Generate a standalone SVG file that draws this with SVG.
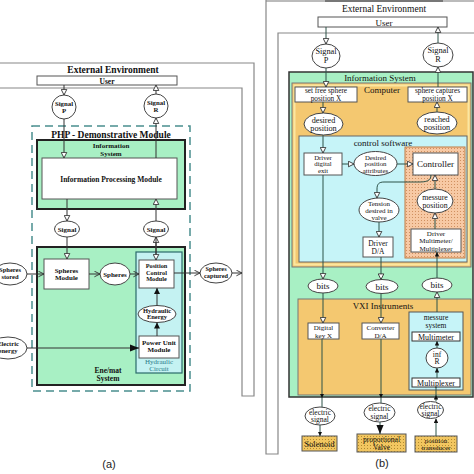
<svg xmlns="http://www.w3.org/2000/svg" width="474" height="474" viewBox="0 0 474 474">
<style>
.a{font-family:"Liberation Serif","Times New Roman",serif;font-weight:bold;text-anchor:middle;fill:#111}
.b{font-family:"Liberation Serif","Times New Roman",serif;text-anchor:middle;fill:#111}
.cap{font-family:"Liberation Sans",Arial,sans-serif;text-anchor:middle;fill:#222;font-size:11px}
.wb{fill:#fff;stroke:#555;stroke-width:1}
.el{fill:#fff;stroke:#444;stroke-width:1}
.grn{fill:#a8f0c4;stroke:#222;stroke-width:2}
.blu{fill:#c6f4f8;stroke:#666;stroke-width:1}
.org{fill:#f4c870;stroke:#777;stroke-width:1}
.frm{fill:none;stroke:#888;stroke-width:1.2}
.c{fill:none;stroke:#333;stroke-width:1}
.cg{fill:none;stroke:#2d5248;stroke-width:1}
.hc{fill:#2a7a8a}
</style>
<defs>
<marker id="hol" viewBox="0 0 10 10" refX="9" refY="5" markerWidth="7" markerHeight="7" markerUnits="userSpaceOnUse" orient="auto"><path d="M1,1 L9,5 L1,9 Z" fill="#fff" stroke="#333" stroke-width="1.3"/></marker>
<marker id="opn" viewBox="0 0 10 10" refX="9" refY="5" markerWidth="7" markerHeight="7" markerUnits="userSpaceOnUse" orient="auto"><path d="M1,1 L9,5 L1,9" fill="none" stroke="#333" stroke-width="1.3"/></marker>
<marker id="fil" viewBox="0 0 10 10" refX="10" refY="5" markerWidth="6" markerHeight="6" markerUnits="userSpaceOnUse" orient="auto"><path d="M0,0 L10,5 L0,10 Z" fill="#111"/></marker>
<marker id="sm" viewBox="0 0 10 10" refX="10" refY="5" markerWidth="4.5" markerHeight="4.5" markerUnits="userSpaceOnUse" orient="auto"><path d="M0,0 L10,5 L0,10 Z" fill="#111"/></marker>
<marker id="big" viewBox="0 0 10 10" refX="10" refY="5" markerWidth="9" markerHeight="9" markerUnits="userSpaceOnUse" orient="auto"><path d="M0,1 L10,5 L0,9 Z" fill="#111"/></marker>
<pattern id="dotO" width="3" height="3" patternUnits="userSpaceOnUse"><rect width="3" height="3" fill="#f7c9a4"/><rect x="1" y="1" width="1" height="1" fill="#d09060"/></pattern>
<pattern id="dotY" width="3" height="3" patternUnits="userSpaceOnUse"><rect width="3" height="3" fill="#f2c660"/><rect x="1" y="1" width="1" height="1" fill="#b08a30"/></pattern>
</defs>

<!-- ===== Panel (a) ===== -->
<g id="a-frame">
<path class="frm" d="M0,63 H254 V396 H242 V88 H0"/>
<text class="a" x="113" y="72.5" font-size="9.5">External Environment</text>
</g>
<g id="a-user"><rect class="wb" x="37" y="76" width="140" height="9"/><text class="a" x="107" y="83.5" font-size="7.5">User</text></g>
<g id="a-signalP"><circle class="el" cx="64" cy="107" r="12"/><text class="a" x="64" y="105.5" font-size="6.8">Signal</text><text class="a" x="64" y="112.5" font-size="6.8">P</text></g>
<g id="a-signalR"><circle class="el" cx="156" cy="106" r="12"/><text class="a" x="156" y="104.5" font-size="6.8">Signal</text><text class="a" x="156" y="111.5" font-size="6.8">R</text></g>
<g id="a-php">
<rect x="32" y="126" width="158" height="265" fill="none" stroke="#4a8f8f" stroke-width="1.5" stroke-dasharray="8,5"/>
<text class="a" x="111" y="138" font-size="9.5">PHP - Demonstrative Module</text>
</g>
<g id="a-infosys"><rect class="grn" x="37" y="140" width="148" height="69"/><text class="a" x="111" y="148" font-size="7">Information</text><text class="a" x="111" y="155.5" font-size="7">System</text></g>
<g id="a-ipm"><rect class="wb" x="42" y="158" width="135" height="41"/><text class="a" x="111" y="182" font-size="7.5">Information Processing Module</text></g>
<g id="a-sig1"><ellipse class="el" cx="67" cy="229" rx="12.5" ry="8"/><text class="a" x="67" y="231.5" font-size="7">Signal</text></g>
<g id="a-sig2"><ellipse class="el" cx="156" cy="229" rx="12.5" ry="8"/><text class="a" x="156" y="231.5" font-size="7">Signal</text></g>
<g id="a-enemat"><rect class="grn" x="37" y="247" width="148" height="138"/><text class="a" x="108" y="373" font-size="7.5">Ene/mat</text><text class="a" x="108" y="381" font-size="7.5">System</text></g>
<g id="a-hydcircuit"><rect x="136" y="252" width="46" height="121" fill="#c4f2f2" stroke="#2a6a6a" stroke-width="1.2"/><text class="b hc" x="159" y="364" font-size="7">Hydraulic</text><text class="b hc" x="159" y="371" font-size="7">Circuit</text></g>
<g id="a-spheresmodule"><rect class="wb" x="44" y="259" width="45" height="30"/><text class="a" x="66.5" y="272.5" font-size="7">Spheres</text><text class="a" x="66.5" y="279.5" font-size="7">Module</text></g>
<g id="a-stored"><ellipse class="el" cx="10" cy="274" rx="17" ry="11"/><text class="a" x="10" y="272" font-size="6.5">Spheres</text><text class="a" x="10" y="279" font-size="6.5">stored</text></g>
<g id="a-spheres"><ellipse class="el" cx="115" cy="274" rx="15" ry="11"/><text class="a" x="115" y="276.5" font-size="7">Spheres</text></g>
<g id="a-pcm"><rect class="wb" x="139" y="260" width="35" height="28"/><text class="a" x="156.5" y="268" font-size="6.3">Position</text><text class="a" x="156.5" y="274.5" font-size="6.3">Control</text><text class="a" x="156.5" y="281" font-size="6.3">Module</text></g>
<g id="a-hydenergy"><ellipse class="el" cx="157" cy="314" rx="19" ry="8.5"/><text class="a" x="157" y="312.5" font-size="6.5">Hydraulic</text><text class="a" x="157" y="319" font-size="6.5">Energy</text></g>
<g id="a-pum"><rect class="wb" x="139" y="336" width="40" height="22"/><text class="a" x="159" y="345" font-size="7">Power Unit</text><text class="a" x="159" y="352" font-size="7">Module</text></g>
<g id="a-electric"><ellipse class="el" cx="8" cy="348" rx="19" ry="11"/><text class="a" x="8" y="346" font-size="6.5">Electric</text><text class="a" x="8" y="353" font-size="6.5">energy</text></g>
<g id="a-captured"><ellipse class="el" cx="216" cy="273" rx="16" ry="10"/><text class="a" x="216" y="271" font-size="6.3">Spheres</text><text class="a" x="216" y="277.5" font-size="6.3">captured</text></g>
<text class="cap" x="109" y="468">(a)</text>

<g id="a-connectors">
<line class="c" x1="64" y1="85" x2="64" y2="95" marker-end="url(#hol)"/>
<line class="c" x1="156" y1="94" x2="156" y2="85" marker-end="url(#hol)"/>
<line class="c" x1="64" y1="119" x2="64" y2="158" marker-end="url(#hol)"/>
<line class="c" x1="156" y1="158" x2="156" y2="118" marker-end="url(#hol)"/>
<line class="c" x1="67" y1="199" x2="67" y2="221" marker-end="url(#hol)"/>
<line class="c" x1="156" y1="221" x2="156" y2="199" marker-end="url(#hol)"/>
<line class="c" x1="67" y1="237" x2="67" y2="259" marker-end="url(#hol)"/>
<line class="c" x1="156" y1="260" x2="156" y2="237" marker-end="url(#hol)"/>
<line class="c" x1="156" y1="237" x2="156" y2="260" marker-end="url(#hol)"/>
<line class="c" x1="27" y1="274" x2="44" y2="274" marker-end="url(#opn)"/>
<line class="c" x1="89" y1="274" x2="100" y2="274" marker-end="url(#opn)"/>
<line class="c" x1="130" y1="274" x2="139" y2="274" marker-end="url(#opn)"/>
<line class="c" x1="174" y1="273" x2="200" y2="273" marker-end="url(#opn)"/>
<line class="c" x1="232" y1="273" x2="242" y2="273" marker-end="url(#opn)"/>
<line class="c" x1="157" y1="336" x2="157" y2="322.5" marker-end="url(#fil)"/>
<line class="c" x1="157" y1="305.5" x2="157" y2="288" marker-end="url(#fil)"/>
<line class="c" x1="27" y1="348" x2="139" y2="348" marker-end="url(#big)"/>
</g>

<!-- ===== Panel (b) ===== -->
<g id="b-frame">
<line x1="266" y1="1" x2="474" y2="1" stroke="#bbb" stroke-width="2"/>
<rect x="325" y="0" width="118" height="2" fill="#777"/>
<path class="frm" d="M266,0 V454 H278 V33 H474"/>
<text class="b" x="384" y="12" font-size="9.5">External Environment</text>
</g>
<g id="b-user"><rect class="wb" x="318" y="17" width="129" height="10"/><text class="b" x="384" y="25.5" font-size="9">User</text></g>
<g id="b-signalP"><ellipse class="el" cx="326" cy="56" rx="14" ry="12"/><text class="b" x="326" y="53.5" font-size="8.3">Signal</text><text class="b" x="326" y="62.5" font-size="8.3">P</text></g>
<g id="b-signalR"><ellipse class="el" cx="438" cy="55" rx="15" ry="12"/><text class="b" x="438" y="52.5" font-size="8.3">Signal</text><text class="b" x="438" y="61.5" font-size="8.3">R</text></g>
<g id="b-infosys"><rect x="289" y="72" width="184" height="325" fill="#a8f0c4" stroke="#333" stroke-width="1.5"/><text class="b" x="380" y="81" font-size="9">Information System</text></g>
<g id="b-computer"><rect class="org" x="292" y="83" width="179" height="184"/><rect x="294.5" y="85.5" width="174" height="179" fill="none" stroke="#fbe6a0" stroke-width="2"/><text class="b" x="382" y="93" font-size="9">Computer</text></g>
<g id="b-setfree"><rect class="wb" x="295" y="87" width="62" height="15"/><text class="b" x="326" y="93" font-size="7.3">set free sphere</text><text class="b" x="326" y="100.7" font-size="7.3">position X</text></g>
<g id="b-captures"><rect class="wb" x="408" y="87" width="59" height="15"/><text class="b" x="437.5" y="93" font-size="7.3">sphere captures</text><text class="b" x="437.5" y="100.7" font-size="7.3">position X</text></g>
<g id="b-desired"><ellipse class="el" cx="323.5" cy="124" rx="19.5" ry="11"/><text class="b" x="323.5" y="122.5" font-size="8.2">desired</text><text class="b" x="323.5" y="130.5" font-size="8.2">position</text></g>
<g id="b-reached"><ellipse class="el" cx="437" cy="123" rx="20" ry="11"/><text class="b" x="437" y="121.5" font-size="8.2">reached</text><text class="b" x="437" y="129.5" font-size="8.2">position</text></g>
<g id="b-control"><rect class="blu" x="299" y="136" width="168" height="126"/><text class="b" x="383" y="146" font-size="9">control software</text></g>
<g id="b-hatch"><rect x="405" y="147" width="60" height="111" fill="url(#dotO)" stroke="#c07a40" stroke-width="1"/></g>
<g id="b-driverdig"><rect class="wb" x="304" y="153" width="38" height="22"/><text class="b" x="323" y="159.5" font-size="6.8">Driver</text><text class="b" x="323" y="166" font-size="6.8">digital</text><text class="b" x="323" y="172.5" font-size="6.8">exit</text></g>
<g id="b-attrib"><ellipse class="el" cx="375.5" cy="163.5" rx="21.5" ry="12"/><text class="b" x="375.5" y="159.5" font-size="6.8">Desired</text><text class="b" x="375.5" y="166" font-size="6.8">position</text><text class="b" x="375.5" y="172.5" font-size="6.8">attributes</text></g>
<g id="b-controller"><rect class="wb" x="413" y="153" width="45" height="22"/><text class="b" x="435.5" y="167" font-size="9">Controller</text></g>
<g id="b-tension"><ellipse class="el" cx="379" cy="210" rx="20" ry="12"/><text class="b" x="379" y="205.5" font-size="7">Tension</text><text class="b" x="379" y="212.5" font-size="7">desired in</text><text class="b" x="379" y="219.5" font-size="7">valve</text></g>
<g id="b-driverda"><rect class="wb" x="363" y="237" width="30" height="20"/><text class="b" x="378" y="246" font-size="7.5">Driver</text><text class="b" x="378" y="253.5" font-size="7.5">D/A</text></g>
<g id="b-measpos"><ellipse class="el" cx="435" cy="201" rx="18" ry="12"/><text class="b" x="435" y="200" font-size="7.8">messure</text><text class="b" x="435" y="208" font-size="7.8">position</text></g>
<g id="b-drivermm"><rect class="wb" x="411" y="229" width="50" height="23"/><text class="b" x="436" y="236" font-size="7">Driver</text><text class="b" x="436" y="243.3" font-size="7">Multimeter/</text><text class="b" x="436" y="250.5" font-size="7">Multiplexer</text></g>
<g id="b-bits1"><ellipse class="el" cx="323" cy="286" rx="15" ry="7"/><text class="b" x="323" y="289" font-size="9">bits</text></g>
<g id="b-bits2"><ellipse class="el" cx="382" cy="286.5" rx="16" ry="7"/><text class="b" x="382" y="289.5" font-size="9">bits</text></g>
<g id="b-bits3"><ellipse class="el" cx="437" cy="285" rx="15" ry="7"/><text class="b" x="437" y="288" font-size="9">bits</text></g>
<g id="b-vxi"><rect class="org" x="298" y="299" width="173" height="96"/><text class="b" x="383" y="309" font-size="9">VXI Instruments</text></g>
<g id="b-digkey"><rect class="wb" x="308" y="323" width="31" height="16"/><text class="b" x="323.5" y="330" font-size="7">Digital</text><text class="b" x="323.5" y="337.5" font-size="7">key X</text></g>
<g id="b-converter"><rect class="wb" x="362" y="323" width="37" height="16"/><text class="b" x="380.5" y="330" font-size="7">Converter</text><text class="b" x="380.5" y="337.5" font-size="7">D/A</text></g>
<g id="b-meassys"><rect class="blu" x="409" y="312" width="54" height="78" style="stroke:#555"/><text class="b" x="436" y="320" font-size="7.5">messure</text><text class="b" x="436" y="327.5" font-size="7.5">system</text></g>
<g id="b-multimeter"><rect class="wb" x="412" y="332" width="48" height="9" style="stroke:#333"/><text class="b" x="436" y="339.5" font-size="8">Multimeter</text></g>
<g id="b-infR"><ellipse class="el" cx="437" cy="358" rx="11" ry="10"/><text class="b" x="437" y="356.5" font-size="7.5">inf</text><text class="b" x="437" y="364" font-size="7.5">R</text></g>
<g id="b-multiplexer"><rect class="wb" x="412" y="378" width="48" height="9" style="stroke:#333"/><text class="b" x="436" y="385.5" font-size="8">Multiplexer</text></g>
<g id="b-elec1"><ellipse class="el" cx="320" cy="416" rx="15" ry="9"/><text class="b" x="320" y="414.5" font-size="7.5">electric</text><text class="b" x="320" y="422" font-size="7.5">signal</text></g>
<g id="b-elec2"><ellipse class="el" cx="379.5" cy="412.5" rx="15.5" ry="9.5"/><text class="b" x="379.5" y="411" font-size="7.5">electric</text><text class="b" x="379.5" y="418.5" font-size="7.5">signal</text></g>
<g id="b-elec3"><ellipse class="el" cx="430.5" cy="410" rx="13" ry="8.5"/><text class="b" x="430.5" y="408.5" font-size="7.5">electric</text><text class="b" x="430.5" y="416" font-size="7.5">signal</text></g>
<g id="b-solenoid"><rect x="302" y="436" width="35" height="15" fill="url(#dotY)" stroke="#555"/><text class="b" x="319.5" y="446.5" font-size="8.5">Solenoid</text></g>
<g id="b-valve"><rect x="357" y="434" width="49" height="18" fill="url(#dotY)" stroke="#555"/><text class="b" x="381.5" y="442" font-size="7.5">proportional</text><text class="b" x="381.5" y="449.5" font-size="7.5">Valve</text></g>
<g id="b-transducer"><rect x="415" y="436" width="42" height="16" fill="url(#dotY)" stroke="#555"/><text class="b" x="436" y="443" font-size="7">position</text><text class="b" x="436" y="450" font-size="7">transducer</text></g>
<text class="cap" x="382" y="467">(b)</text>

<g id="b-connectors">
<line class="cg" x1="326" y1="27" x2="326" y2="44" marker-end="url(#hol)"/>
<line class="cg" x1="438" y1="43" x2="438" y2="27" marker-end="url(#hol)"/>
<line class="cg" x1="326" y1="68" x2="326" y2="87" marker-end="url(#hol)"/>
<line class="cg" x1="438" y1="87" x2="438" y2="67" marker-end="url(#hol)"/>
<line class="cg" x1="323" y1="102" x2="323" y2="113" marker-end="url(#hol)"/>
<line class="cg" x1="437" y1="112" x2="437" y2="102" marker-end="url(#hol)"/>
<line class="cg" x1="323" y1="135" x2="323" y2="153" marker-end="url(#hol)"/>
<line class="cg" x1="342" y1="164" x2="354" y2="164" marker-end="url(#hol)"/>
<line class="cg" x1="397" y1="164" x2="413" y2="164" marker-end="url(#hol)"/>
<path class="cg" d="M431,175 C431,181 426,182 419,182 H384 C379,182 377,184 377,189 V198" marker-end="url(#hol)"/>
<line class="cg" x1="379" y1="222" x2="379" y2="237" marker-end="url(#hol)"/>
<line class="cg" x1="435" y1="189" x2="435" y2="175" marker-end="url(#hol)"/>
<line class="cg" x1="435" y1="229" x2="435" y2="213" marker-end="url(#hol)"/>
<line class="cg" x1="323" y1="175" x2="323" y2="279" marker-end="url(#hol)"/>
<line class="cg" x1="381" y1="257" x2="381" y2="279.5" marker-end="url(#hol)"/>
<line class="cg" x1="437" y1="278" x2="437" y2="252" marker-end="url(#sm)"/>
<line class="cg" x1="323" y1="293" x2="323" y2="323" marker-end="url(#hol)"/>
<line class="cg" x1="381" y1="293.5" x2="381" y2="323" marker-end="url(#hol)"/>
<line class="cg" x1="437" y1="312" x2="437" y2="292" marker-end="url(#hol)"/>
<line class="cg" x1="437" y1="378" x2="437" y2="368" marker-end="url(#sm)"/>
<line class="cg" x1="437" y1="348" x2="437" y2="341" marker-end="url(#sm)"/>
<line class="cg" x1="322" y1="339" x2="322" y2="398" marker-end="url(#sm)"/>
<line class="cg" x1="322" y1="398" x2="322" y2="407"/>
<line class="cg" x1="381" y1="339" x2="381" y2="398" marker-end="url(#sm)"/>
<line class="cg" x1="381" y1="398" x2="381" y2="403"/>
<line class="cg" x1="436" y1="401.5" x2="436" y2="395" marker-end="url(#sm)"/>
<line class="cg" x1="436" y1="395" x2="436" y2="387"/>
<line class="cg" x1="320" y1="425" x2="320" y2="436" marker-end="url(#sm)"/>
<line class="cg" x1="380" y1="422" x2="380" y2="434" marker-end="url(#big)"/>
<line class="cg" x1="436" y1="436" x2="436" y2="418.5" marker-end="url(#sm)"/>
</g>
</svg>
